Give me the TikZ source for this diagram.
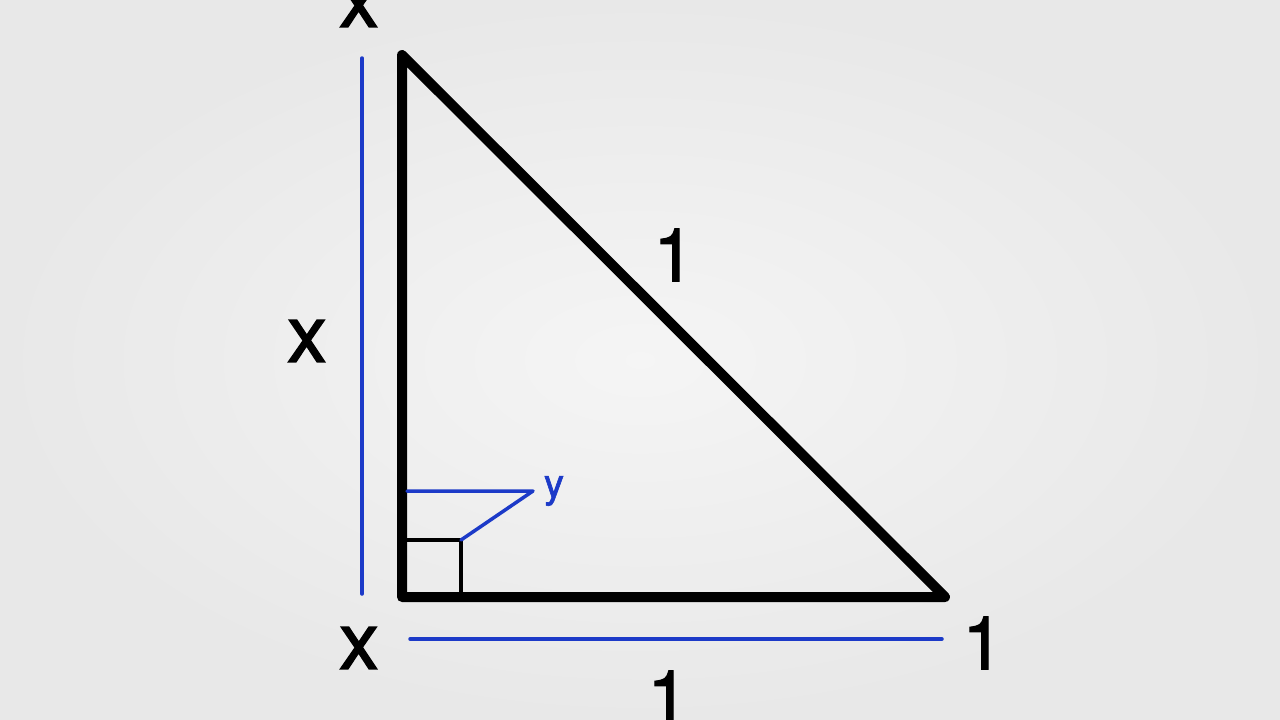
\documentclass[tikz,border=0pt]{standalone}
\usepackage{fontspec}
\setmainfont{TeX Gyre Heros}[FakeBold=1.6]
\usepackage{tikz}
\usetikzlibrary{positioning, calc}
\definecolor{markblue}{RGB}{28,58,200}
\tikzset{side/.style={line width=10pt, line join=round, line cap=round}}
\tikzset{marker/.style={markblue, line width=3.5pt, line cap=round, line join=round}}
\tikzset{numlbl/.style={inner sep=0pt, font=\fontsize{74}{74}\selectfont}}
\tikzset{varlbl/.style={inner sep=0pt, font=\fontsize{80}{80}\selectfont}}

\begin{document}
\begin{tikzpicture}[x=1pt, y=-1pt]
      \shade[inner color=white!96!black, outer color=white!91!black] (0,0) rectangle (1280,720);
      \useasboundingbox (0,0) rectangle (1280,720);

      % corners of the triangle
      \coordinate (apex) at (402,55);
      \coordinate (corner) at (402,597);
      \coordinate (foot) at (945,597);
      \draw[side] (apex) -- (corner) -- (foot) -- cycle;

      % right angle box
      \coordinate (boxtop) at (402,540);
      \coordinate (boxtip) at (461,540);
      \coordinate (boxfoot) at (461,597);
      \draw[line width=4pt] (boxtop) -- (boxtip) -- (boxfoot);

      % blue marks
      \coordinate (ystart) at (407,491);
      \coordinate (ytip) at (533,491);
      \draw[marker] (ystart) -- (ytip) -- (boxtip);
      \node[markblue, inner sep=0pt, font=\fontsize{40}{40}\selectfont] (ylab) at (554,491) {y};

      \coordinate (vtop) at (362,58);
      \coordinate (vbot) at (362,594);
      \draw[marker] (vtop) -- (vbot);
      \coordinate (hleft) at (410,639);
      \coordinate (hright) at (942,639);
      \draw[marker] (hleft) -- (hright);

      % labels
      \node[varlbl] (xtop) at (359,6) {x};
      \node[varlbl] (xleft) at (307,341) {x};
      \node[varlbl] (xbot) at (359,648) {x};
      \node[numlbl] (hyp) at (674,255) {1};
      \node[numlbl] (onergt) at (983,643) {1};
      \node[numlbl] (onebot) at (668,697) {1};
\end{tikzpicture}
\end{document}
